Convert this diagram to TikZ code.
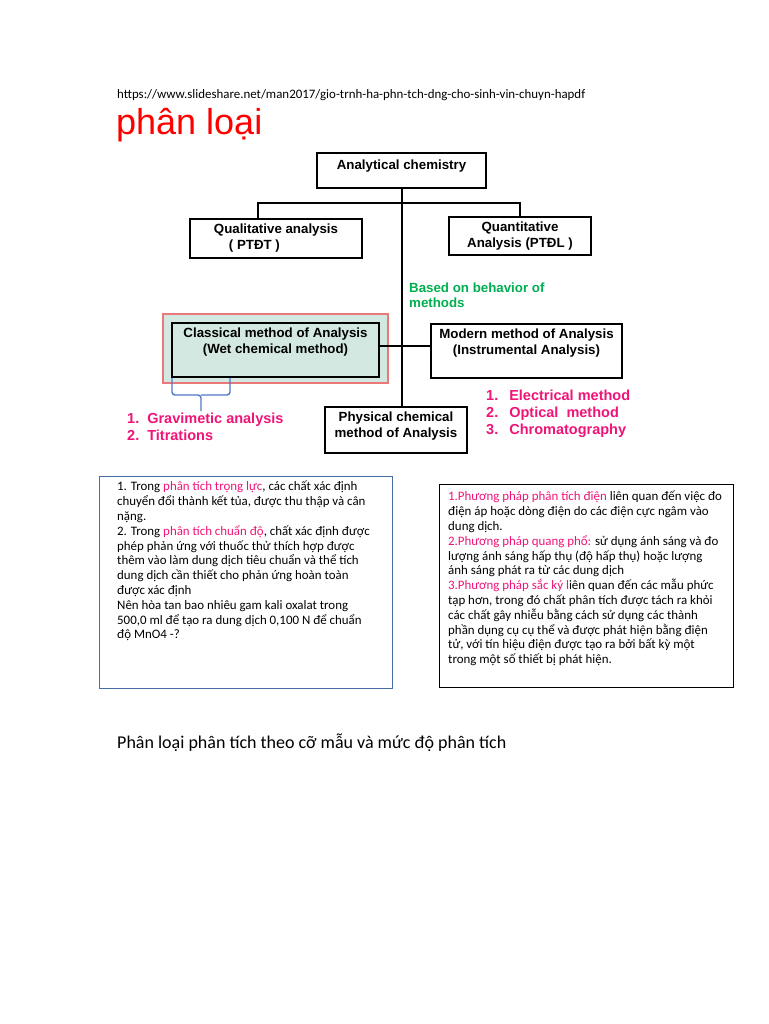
\documentclass[tikz,border=0pt]{standalone}
\usepackage{fontspec}
\setmainfont{Carlito}
\newfontfamily\arial{Liberation Sans}
\usetikzlibrary{positioning}
\definecolor{pk}{RGB}{240,20,120}
\definecolor{grn}{RGB}{0,176,80}
\definecolor{tealfill}{RGB}{210,232,225}
\definecolor{pinkborder}{RGB}{235,120,120}
\definecolor{bracecol}{RGB}{80,120,200}
\definecolor{boxblue}{RGB}{70,110,165}
\tikzset{
  box/.style={draw=black, line width=2pt, fill=white, align=center, inner sep=0pt,
    font=\arial\bfseries\fontsize{13.3}{16}\selectfont},
  conn/.style={line width=2pt},
  listtext/.style={anchor=base west, inner sep=0pt, text=pk, font=\arial\bfseries\fontsize{14.5}{17}\selectfont},
  notebox/.style={anchor=north west, inner xsep=0pt, inner ysep=0pt, font=\fontsize{12.9}{14.8}\selectfont},
}
\begin{document}
\begin{tikzpicture}[x=1pt,y=-1pt]
\useasboundingbox[fill=white] (0,0) rectangle (768,1024);

% header
\node[anchor=west, inner sep=0pt, font=\fontsize{12.9}{15}\selectfont] (url) at (117,95)
  {https://www.slideshare.net/man2017/gio-trnh-ha-phn-tch-dng-cho-sinh-vin-chuyn-hapdf};
\node[anchor=base west, inner sep=0pt, text=red, font=\arial\fontsize{36}{40}\selectfont] (title) at (116,135) {phân loại};

% diagram boxes
\node[box, minimum width=169, minimum height=35, text depth=13pt] (ac) at (401.5,171) {Analytical chemistry};
\node[box, minimum width=172, minimum height=38, align=left] (qual) at (276,238.5)
  {Qualitative analysis\\\hspace{15pt}( PTĐT )};
\node[box, minimum width=142, minimum height=38] (quant) at (520,236) {Quantitative\\Analysis (PTĐL )};

\node[draw=pinkborder, line width=1.2pt, fill=tealfill, minimum width=225, minimum height=69, inner sep=0pt] (outer) at (275.5,348.5) {};
\node[box, fill=tealfill, minimum width=207, minimum height=54, text depth=18pt] (inner) at (275.5,350)
  {Classical method of Analysis\\(Wet chemical method)};
\node[box, minimum width=191, minimum height=54, text depth=18pt] (modern) at (526.5,351)
  {Modern method of Analysis\\(Instrumental Analysis)};
\node[box, minimum width=142, minimum height=46, text depth=10pt] (phys) at (396,430)
  {Physical chemical\\method of Analysis};

\node[anchor=north west, inner sep=0pt, align=left, text=grn, font=\arial\bfseries\fontsize{13.3}{15}\selectfont] (basis) at (409,283)
  {Based on behavior of\\methods};

% connectors
\draw[conn] (ac.south) -- (ac.south |- phys.north);
\draw[conn] ([xshift=-18pt]qual.north) -- ++(0,-15) -| (quant.north);
\draw[conn] ([yshift=4pt]inner.east) -- ([yshift=4pt]modern.west |- inner.east);

% brace
\draw[bracecol, line width=1.4pt, rounded corners=3pt] ([xshift=1pt]inner.south west) |- (201,395) -- (201,411);
\draw[bracecol, line width=1.4pt, rounded corners=3pt] (230,378) |- (201,395);

% lists
\node[listtext] (g1) at (127,423) {1.\hspace{8pt}Gravimetic analysis};
\node[listtext] (g2) at (127,440) {2.\hspace{8pt}Titrations};
\node[listtext] (m1) at (486,400) {1.\hspace{11pt}Electrical method};
\node[listtext] (m2) at (486,417) {2.\hspace{11pt}Optical\ \ method};
\node[listtext] (m3) at (486,434) {3.\hspace{11pt}Chromatography};

% note boxes
\node[draw=boxblue, line width=1.4pt, anchor=north west, inner sep=0pt, minimum width=293, minimum height=212] (lbox) at (99,475.5) {};
\node[notebox] (ltext) at (117,481) {\begin{minipage}[t]{272pt}\raggedright
1. Trong \textcolor{pk}{phân tích trọng lực}, các chất xác định\\
chuyển đổi thành kết tủa, được thu thập và cân\\
nặng.\\
2. Trong \textcolor{pk}{phân tích chuẩn độ}, chất xác định được\\
phép phản ứng với thuốc thử thích hợp được\\
thêm vào làm dung dịch tiêu chuẩn và thể tích\\
dung dịch cần thiết cho phản ứng hoàn toàn\\
được xác định\\
Nên hòa tan bao nhiêu gam kali oxalat trong\\
500,0 ml để tạo ra dung dịch 0,100 N để chuẩn\\
độ MnO4 -?
\end{minipage}};

\node[draw=black, line width=1.4pt, anchor=north west, inner sep=0pt, minimum width=294, minimum height=203] (rbox) at (438.5,483.5) {};
\node[notebox] (rtext) at (448,491) {\begin{minipage}[t]{285pt}\raggedright
\textcolor{pk}{1.Phương pháp phân tích điện} liên quan đến việc đo\\
điện áp hoặc dòng điện do các điện cực ngâm vào\\
dung dịch.\\
\textcolor{pk}{2.Phương pháp quang phổ:} sử dụng ánh sáng và đo\\
lượng ánh sáng hấp thụ (độ hấp thụ) hoặc lượng\\
ánh sáng phát ra từ các dung dịch\\
\textcolor{pk}{3.Phương pháp sắc ký l}iên quan đến các mẫu phức\\
tạp hơn, trong đó chất phân tích được tách ra khỏi\\
các chất gây nhiễu bằng cách sử dụng các thành\\
phần dụng cụ cụ thể và được phát hiện bằng điện\\
tử, với tín hiệu điện được tạo ra bởi bất kỳ một\\
trong một số thiết bị phát hiện.
\end{minipage}};

\node[anchor=base west, inner sep=0pt, font=\fontsize{18}{21}\selectfont] (bottom) at (117,748)
  {Phân loại phân tích theo cỡ mẫu và mức độ phân tích};
\end{tikzpicture}
\end{document}
